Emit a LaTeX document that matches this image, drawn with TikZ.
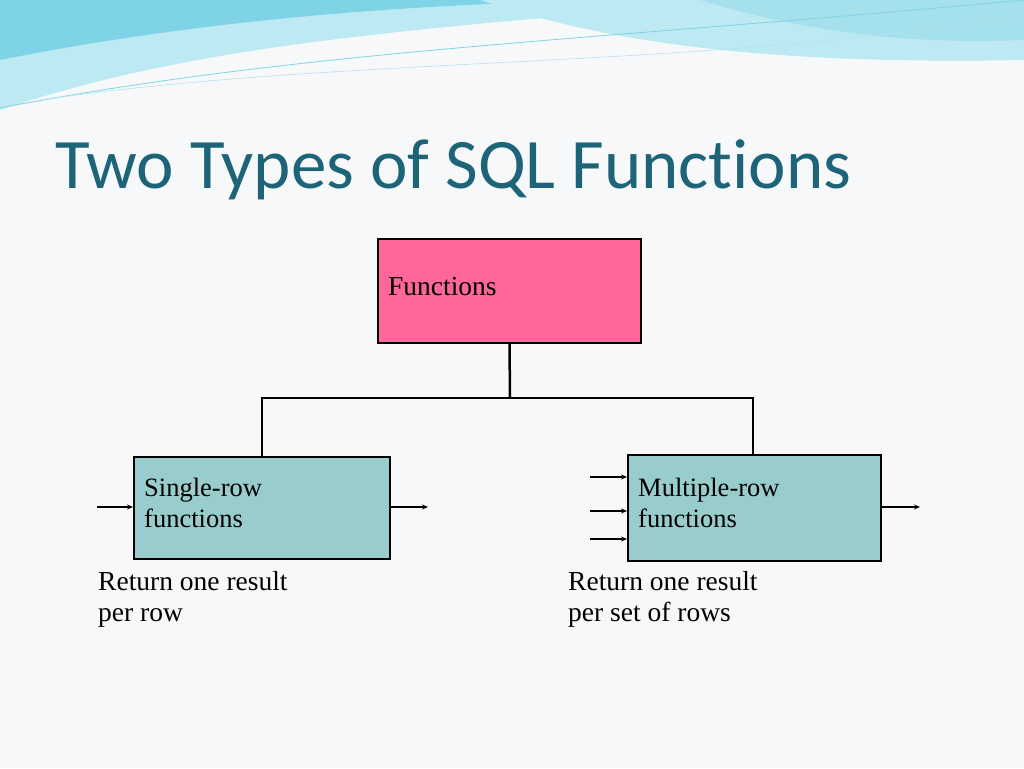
\documentclass[tikz,border=0pt]{standalone}
\usepackage{fontspec}
\setmainfont{Liberation Serif}
\newfontfamily\titlefont[RawFeature=-liga]{Carlito}
\usetikzlibrary{arrows.meta}
\definecolor{bg}{HTML}{F7F8FA}
\definecolor{ttl}{HTML}{1E6478}
\definecolor{pinkbox}{HTML}{FF6699}
\definecolor{tealbox}{HTML}{99CCCC}
\definecolor{wave1}{HTML}{7FD3E6}
\definecolor{wave2}{HTML}{BDE9F2}
\begin{document}
\begin{tikzpicture}[x=1pt,y=-1pt,
  box/.style={draw=black,line width=2pt,anchor=north west,inner sep=0pt},
  lbl/.style={font=\fontsize{26.5}{31}\selectfont,align=left,anchor=north west,inner sep=0pt},
  conn/.style={line width=2.5pt},
  arr/.style={line width=1.8pt,-{Stealth[length=6pt,width=5pt]}}]
\fill[bg] (0,0) rectangle (1024,768);
\useasboundingbox (0,0) rectangle (1024,768);
% top waves
\fill[wave2] (0,0) -- (0,110) .. controls (150,60) and (300,40) .. (520,20) .. controls (650,8) and (800,0) .. (850,0) -- cycle;
\fill[wave1] (0,0) -- (0,60) .. controls (200,20) and (400,5) .. (600,0) -- cycle;
\fill[wave2] (480,0) .. controls (600,40) and (750,65) .. (1024,60) -- (1024,0) -- cycle;
\fill[wave1!70] (700,0) .. controls (800,30) and (900,45) .. (1024,40) -- (1024,0) -- cycle;
\draw[wave1,line width=0.8pt] (0,108) .. controls (300,50) and (600,40) .. (1024,0);
\draw[wave1!60,line width=0.6pt] (40,100) .. controls (350,55) and (700,70) .. (1024,15);
% title
\node[anchor=base west,inner sep=0pt,text=ttl,font=\titlefont\fontsize{71}{80}\selectfont] (title) at (55,188) {Two Types of SQL Functions};
% boxes
\node[box,fill=pinkbox,minimum width=263pt,minimum height=104pt] (f) at (377,238) {};
\node[lbl,font=\fontsize{27.5}{31}\selectfont] (ft) at (388,277) {Functions};
\node[box,fill=tealbox,minimum width=256pt,minimum height=102pt] (s) at (133,456) {};
\node[lbl] (st) at (144,478) {Single-row\\functions};
\node[box,fill=tealbox,minimum width=253pt,minimum height=106pt] (m) at (627,454) {};
\node[lbl] (mt) at (638,478) {Multiple-row\\functions};
\node[lbl,font=\fontsize{27.5}{31}\selectfont] (sr) at (98,571) {Return one result\\per row};
\node[lbl,font=\fontsize{27.5}{31}\selectfont] (mr) at (568,571) {Return one result\\per set of rows};
% connectors
\coordinate (j) at (510,398);
\draw[conn] (f.south) -- (j);
\draw[conn] (261,398) -- (754,398);
\draw[conn] (262,397) -- (262,456);
\draw[conn] (753,397) -- (753,454);
% arrows
\coordinate (a1) at (97,507);
\coordinate (a2) at (428,507);
\draw[arr] (a1) -- (s.west |- a1);
\draw[arr] (s.east |- a2) -- (a2);
\foreach \yy in {477,511,539}{
  \coordinate (b\yy) at (590,\yy);
  \draw[arr] (b\yy) -- (m.west |- b\yy);}
\coordinate (a3) at (920,507);
\draw[arr] (m.east |- a3) -- (a3);
\end{tikzpicture}
\end{document}
